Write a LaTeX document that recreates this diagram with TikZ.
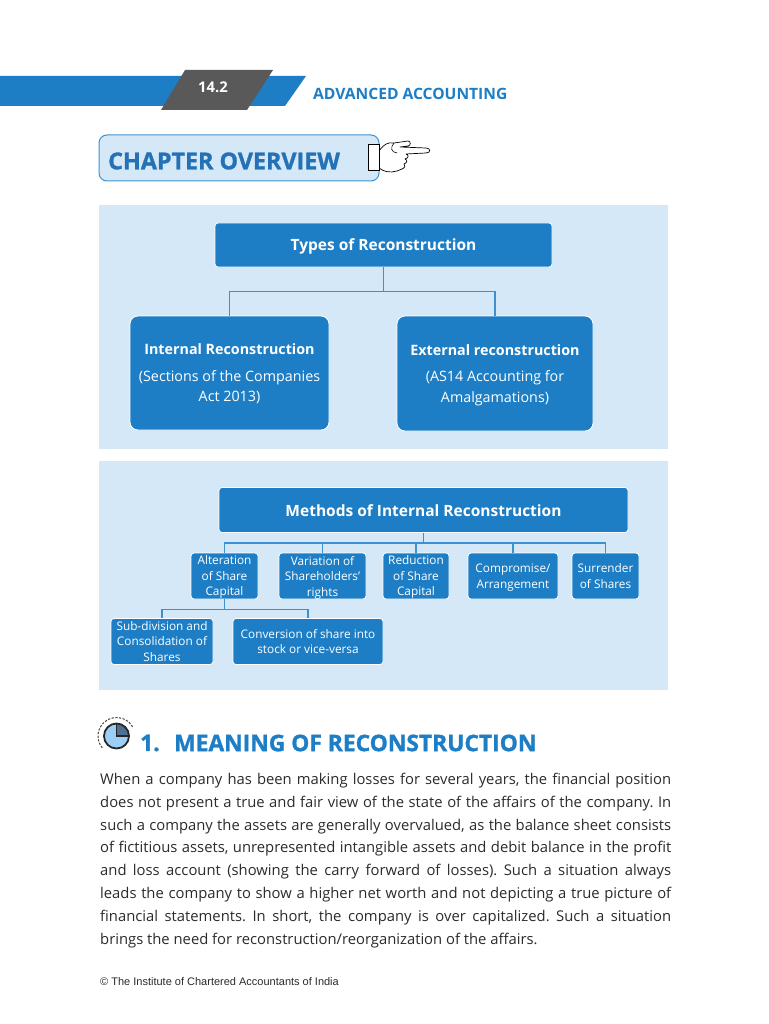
\documentclass[tikz,border=0pt]{standalone}
\usepackage{fontspec}
\setmainfont{Open Sans}
\newfontfamily\footfont{Liberation Sans}
\newfontfamily\heavyfont[BoldFeatures={FakeBold=1.2}]{Open Sans}
\usetikzlibrary{positioning}
\definecolor{bandblue}{HTML}{1D7EC5}
\definecolor{panelblue}{HTML}{D4E8F8}
\definecolor{linkblue}{HTML}{3C92D0}
\definecolor{headblue}{HTML}{2471B5}
\definecolor{darkgrey}{HTML}{595959}
\definecolor{bodygrey}{HTML}{2B2B2B}
\definecolor{clocklight}{HTML}{9CCFF5}
\definecolor{clockdark}{HTML}{4F7191}
\tikzset{
    bluebox/.style={draw=white, line width=0.8pt, fill=bandblue, text=white, align=center, inner sep=0pt},
    bigbox/.style={bluebox, rounded corners=8pt, text depth=0pt, font=\fontsize{14.3}{20.5}\selectfont},
    titlebox/.style={bluebox, rounded corners=3pt, text height=14pt, font=\fontsize{15.5}{20}\selectfont\bfseries},
    smallbox/.style={bluebox, rounded corners=3pt, minimum height=46pt, text depth=-1pt, font=\fontsize{11.8}{15.5}\selectfont},
    linkline/.style={draw=linkblue, line width=1.8pt},
    panel/.style={fill=panelblue, draw=none},
    headline/.style={anchor=west, inner sep=0pt, text=bandblue, font=\fontsize{22.8}{24}\selectfont\heavyfont\bfseries},
}
\begin{document}
\begin{tikzpicture}[x=1pt, y=-1pt]
    \useasboundingbox (0,0) rectangle (768,1024);
    \fill[white] (0,0) rectangle (768,1024);
    % Header band
    \fill[bandblue] (0,76) -- (306,76) -- (285,106) -- (0,106) -- cycle;
    \fill[darkgrey] (185,70) -- (273,70) -- (247,110) -- (161,110) -- cycle;
    \node[text=white, font=\fontsize{14.8}{16}\selectfont\bfseries] (pageno) at (213,87.5) {14.2};
    \node[anchor=west, inner sep=0pt, text=bandblue, font=\fontsize{15.6}{17}\selectfont\bfseries] (runhead) at (313,94) {ADVANCED ACCOUNTING};
    % Chapter overview label
    \draw[fill=panelblue, draw=linkblue, line width=1pt, rounded corners=8pt] (99,135) rectangle (379,181);
    \node[anchor=west, inner sep=0pt, text=headblue, font=\fontsize{23.3}{25}\selectfont\heavyfont\bfseries] (overview) at (108,161) {CHAPTER OVERVIEW};
    % Pointing hand
    \draw[black, line width=0.7pt, fill=white, line join=round]
        (379,151) .. controls (384,144) and (388,142) .. (394,143)
        -- (408,141) .. controls (411,141) and (411,146) .. (408,146)
        -- (400,147) -- (426,148) .. controls (431,148) and (431,153) .. (426,153)
        -- (406,154) .. controls (409,155) and (409,158) .. (405,159)
        .. controls (408,160) and (407,163) .. (404,164)
        .. controls (406,165) and (405,168) .. (402,169)
        -- (397,171) .. controls (390,173) and (384,172) .. (379,168) -- cycle;
    \draw[black, line width=0.6pt] (394,143) .. controls (390,148) and (391,152) .. (397,153);
    \draw[black, line width=1pt, fill=white] (368,145) rectangle (379,171);
    % First panel
    \fill[panel] (99,205) rectangle (668,449);
    \node[titlebox, minimum width=337pt, minimum height=44pt] (types) at (383.5,245) {Types of Reconstruction};
    \node[bigbox, minimum width=199pt, minimum height=114pt] (internal) at (229.5,373) {{\bfseries Internal Reconstruction}\\[6pt](Sections of the Companies\\Act 2013)};
    \node[bigbox, minimum width=196pt, minimum height=115pt] (external) at (495,373.5) {{\bfseries External reconstruction}\\[6pt](AS14 Accounting for\\Amalgamations)};
    \draw[linkline] (types.south) -- ++(0,24) coordinate (typesbus);
    \draw[linkline] (typesbus) -| (internal.north);
    \draw[linkline] (typesbus) -| (external.north);
    % Second panel
    \fill[panel] (99,461) rectangle (668,690);
    \node[titlebox, minimum width=409pt, minimum height=45pt] (methods) at (423.5,510) {Methods of Internal Reconstruction};
    \node[smallbox, minimum width=67pt] (alter) at (224.5,576) {Alteration\\of Share\\Capital};
    \node[smallbox, minimum width=87pt] (variation) at (322.5,576) {Variation of\\Shareholders'\\rights};
    \node[smallbox, minimum width=66pt] (reduction) at (416,576) {Reduction\\of Share\\Capital};
    \node[smallbox, minimum width=90pt] (compromise) at (513,576) {Compromise/\\Arrangement};
    \node[smallbox, minimum width=67pt] (surrender) at (605.5,576) {Surrender\\of Shares};
    \node[smallbox, minimum width=102pt] (subdiv) at (162,641.5) {Sub-division and\\Consolidation of\\Shares};
    \node[smallbox, minimum width=150pt] (convert) at (308,641.5) {Conversion of share into\\stock or vice-versa};
    \draw[linkline] (methods.south) -- ++(0,10) coordinate (methodsbus);
    \foreach \child in {alter,variation,reduction,compromise,surrender}
        \draw[linkline] (methodsbus) -| (\child.north);
    \draw[linkline] (alter.south) -- ++(0,10) coordinate (alterbus);
    \draw[linkline] (alterbus) -| (subdiv.north);
    \draw[linkline] (alterbus) -| (convert.north);
    % Clock icon
    \fill[clocklight] (116.5,736) circle (12.5pt);
    \fill[clockdark] (116.5,736) -- (116.5,723.5) arc[start angle=90, end angle=0, radius=12.5pt] -- cycle;
    \draw[black!85, line width=1.8pt] (116.5,736) circle (12.5pt);
    \draw[black!85, line width=1.2pt] (116.5,723.5) -- (116.5,736) -- (129,736);
    \draw[black!75, line width=1pt, dash pattern=on 2.2pt off 1.5pt] (116.5,736) ++(220:18.5pt) arc[start angle=220, end angle=28, radius=18.5pt];
    % Section heading
    \node[headline] (secno) at (140,743) {1.};
    \node[headline] (sectitle) at (174,743) {MEANING OF RECONSTRUCTION};
    % Body text
    \node[anchor=north west, inner sep=0pt, text width=571pt, align=justify, text=bodygrey, font=\fontsize{14.8}{22.8}\selectfont\frenchspacing] (bodytext) at (100,773) {When a company has been making losses for several years, the financial position\linebreak
    does not present a true and fair view of the state of the affairs of the company. In\linebreak
    such a company the assets are generally overvalued, as the balance sheet consists\linebreak
    of fictitious assets, unrepresented intangible assets and debit balance in the profit\linebreak
    and loss account (showing the carry forward of losses). Such a situation always\linebreak
    leads the company to show a higher net worth and not depicting a true picture of\linebreak
    financial statements. In short, the company is over capitalized. Such a situation\linebreak
    brings the need for reconstruction/reorganization of the affairs.};
    % Footer
    \node[anchor=west, inner sep=0pt, text=bodygrey, font=\fontsize{11}{12}\selectfont\footfont] (footer) at (100,982) {© The Institute of Chartered Accountants of India};
\end{tikzpicture}
\end{document}
